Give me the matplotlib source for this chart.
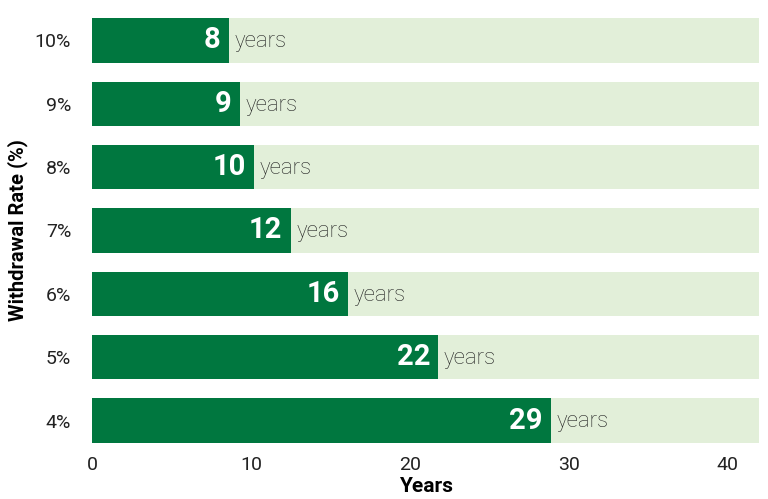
import matplotlib.pyplot as plt

rates = ["4%", "5%", "6%", "7%", "8%", "9%", "10%"]
years = [28.9, 21.8, 16.1, 12.5, 10.2, 9.3, 8.6]
year_labels = ["29", "22", "16", "12", "10", "9", "8"]
full = 42

dark = "#00773f"
light = "#e2efd9"

plt.rcParams['font.family'] = ['Roboto', 'DejaVu Sans']

fig = plt.figure(figsize=(7.68, 4.99), dpi=100)
ax = fig.add_axes([0.1198, 0.0938, 0.8688, 0.8886])

pos = range(len(rates))
ax.barh(pos, [full] * len(rates), height=0.7, color=light)
ax.barh(pos, years, height=0.7, color=dark)

for i, (v, lab) in enumerate(zip(years, year_labels)):
    ax.annotate(lab, (v, i), xytext=(-6, 0), textcoords="offset points",
                ha="right", va="center", color="white", fontsize=21,
                fontweight="bold")
    ax.annotate("years", (v, i), xytext=(4, -1), textcoords="offset points",
                ha="left", va="center", color="#222222", fontsize=16,
                fontweight="light")

ax.set_xlim(0, full)
ax.set_ylim(-0.5, len(rates) - 0.5)
ax.set_yticks(list(pos))
ax.set_yticklabels(rates)
ax.set_xticks([0, 10, 20, 30, 40])
ax.tick_params(length=0, labelsize=14, labelcolor="#222222")
ax.tick_params(axis="x", pad=3)
ax.tick_params(axis="y", pad=15)
for s in ax.spines.values():
    s.set_visible(False)

ax.set_xlabel("Years", fontsize=15, fontweight="bold", va="center")
ax.xaxis.set_label_coords(0.5, -0.078)
ax.set_ylabel("Withdrawal Rate (%)", fontsize=14.5, fontweight="bold", va="center")
ax.yaxis.set_label_coords(-0.111, 0.5)

fig.savefig("out.png", dpi=100)
